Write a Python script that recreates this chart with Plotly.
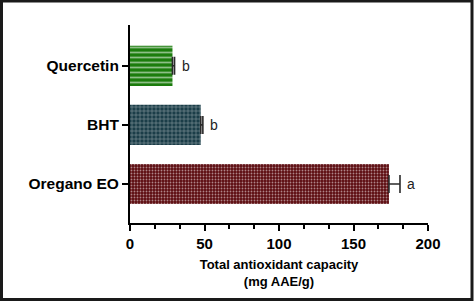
import plotly.graph_objects as go

categories = ["Oregano EO", "BHT", "Quercetin"]
values = [173.8, 47.5, 28.5]
errors = [7.4, 1.4, 1.4]
letters = ["a", "b", "b"]
bg_colors = ["#5c0b10", "#1b3d48", "#1b7c0c"]
fg_colors = ["#8e1e24", "#b8a8b4", "#e0f59a"]
shapes_ = [".", "+", "-"]
sizes = [3, 4, 5]
solids = [0.3, 0.25, 0.35]

W, H = 474, 301
L, R, T, B = 130, 46, 25, 78

fig = go.Figure()
fig.add_trace(go.Bar(
    y=categories, x=values, orientation="h", width=0.68,
    marker=dict(color=bg_colors, line=dict(width=0),
                pattern=dict(shape=shapes_, fgcolor=fg_colors, bgcolor=bg_colors,
                             size=sizes, solidity=solids, fillmode="overlay")),
    error_x=dict(type="data", array=errors, arrayminus=[0, 0, 0], symmetric=False,
                 color="#2a2a2a", thickness=1.6, width=9),
    showlegend=False,
))

for c, v, e, t in zip(categories, values, errors, letters):
    fig.add_annotation(x=v + e, y=c, text=t, showarrow=False, xanchor="left",
                       xshift=5, font=dict(family="Liberation Sans, Arial", size=14, color="#222"))

pw, ph = W - L - R, H - T - B
def px(x): return (x - L) / pw
def py(y): return (H - B - y) / ph
fig.add_shape(type="rect", xref="paper", yref="paper",
              x0=px(1.5), x1=px(472), y0=py(1), y1=py(299.5),
              line=dict(color="#1a1a1a", width=3))

fig.update_layout(
    width=W, height=H, margin=dict(l=L, r=R, t=T, b=B),
    paper_bgcolor="white", plot_bgcolor="white",
    font=dict(family="Liberation Sans, Arial", color="black"),
    xaxis=dict(range=[0, 200], tickvals=[0, 50, 100, 150, 200],
               showline=True, linecolor="black", linewidth=2,
               ticks="outside", ticklen=6, tickwidth=2, tickcolor="black",
               minor=dict(tick0=0, dtick=50/3, ticks="outside", ticklen=4, tickwidth=2, tickcolor="black"),
               showgrid=False, zeroline=False,
               tickfont=dict(size=15, family="Liberation Sans, Arial", weight="bold"),
               title=dict(text="Total antioxidant capacity<br>(mg AAE/g)",
                          font=dict(size=13, weight="bold"), standoff=9)),
    yaxis=dict(range=[-0.66, 2.69], showline=True, linecolor="black", linewidth=2,
               ticks="outside", ticklen=6, tickwidth=2, tickcolor="black",
               showgrid=False, zeroline=False,
               tickfont=dict(size=15.5, family="Liberation Sans, Arial", weight="bold")),
)

fig.write_html("out.html")
